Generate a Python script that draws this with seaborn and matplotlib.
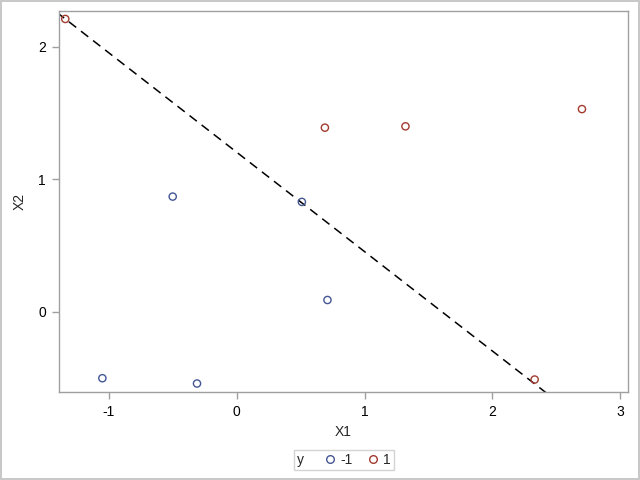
import matplotlib
matplotlib.use('Agg')

import seaborn as sns
import numpy
import pandas
import matplotlib.pyplot as plt
from matplotlib.lines import Line2D
from matplotlib.offsetbox import HPacker

# data
x1 = [-1.34, 0.69, 1.32, 2.70, 2.33, -0.50, 0.51, 0.71, -1.05, -0.31]
x2 = [2.21, 1.39, 1.40, 1.53, -0.51, 0.87, 0.83, 0.09, -0.50, -0.54]
y = [1, 1, 1, 1, 1, -1, -1, -1, -1, -1]

# separating line x2 = b0 + b1 * x1
line_intercept = 1.205
line_slope = -0.75

x_ticks = [-1, 0, 1, 2, 3]
y_ticks = [0, 1, 2]

BLUE = '#445694'
RED = '#A23A2E'
GRAY = '#A0A0A0'

sns.set_style('white')
plt.rcParams['font.family'] = ['Liberation Sans', 'DejaVu Sans']
plt.rcParams['axes.unicode_minus'] = False

data = pandas.DataFrame({'X1': x1, 'X2': x2, 'y': y})

fig = plt.figure(figsize=(6.4, 4.8), dpi=100)
fig.patch.set_edgecolor('#C8C8C8')
fig.patch.set_linewidth(1.5)
ax = fig.add_axes([58.5 / 640, 88 / 480, (628 - 58.5) / 640, (392 - 11) / 480])

sns.scatterplot(data=data, x='X1', y='X2', hue='y', palette={-1: BLUE, 1: RED},
                s=27, linewidth=1.0, legend=False, ax=ax, zorder=3)
pts = ax.collections[0]
pts.set_edgecolors(pts.get_facecolors())
pts.set_facecolors('none')

xs = numpy.array([-1.5, 3.2])
ax.plot(xs, line_intercept + line_slope * xs, color='black', linestyle=(0, (6, 4)),
        linewidth=1.1, zorder=2)

ax.set_xlim(-1.393, 3.06)
ax.set_ylim(-0.604, 2.27)
ax.set_xticks(x_ticks)
ax.set_yticks(y_ticks)

for sp in ax.spines.values():
    sp.set_color(GRAY)
    sp.set_linewidth(1)
ax.tick_params(axis='both', which='both', direction='out', length=5, width=1,
               color=GRAY, labelsize=10, labelcolor='black', pad=4, bottom=True, left=True)

ax.set_xlabel('X1', fontsize=10, labelpad=5)
ax.set_ylabel('X2', fontsize=10, labelpad=8)

handles = [Line2D([], [], marker='o', linestyle='none', markerfacecolor='none',
                  markeredgecolor=c, markersize=5.5, markeredgewidth=1.0) for c in (BLUE, RED)]
leg = fig.legend(handles, ['-1', '1'], title='y', ncol=2, loc='center',
                 bbox_to_anchor=(344 / 640, 1 - 460 / 480), fontsize=10,
                 title_fontsize=10, frameon=True, fancybox=False, handlelength=0.9,
                 handletextpad=0.3, columnspacing=1.0, borderpad=0.25)
leg.get_frame().set_edgecolor('#C8C8C8')
leg.get_frame().set_linewidth(1)

# put the title on the left, like SAS does
title_box, body_box = leg._legend_box.get_children()
leg._legend_box = HPacker(pad=0.25 * 10, sep=1.4 * 10, align='center',
                          children=[title_box, body_box])
leg._legend_box.set_figure(fig)
leg._legend_box.set_offset(leg._findoffset)

fig.savefig('out.png', dpi=100)
plt.close('all')
